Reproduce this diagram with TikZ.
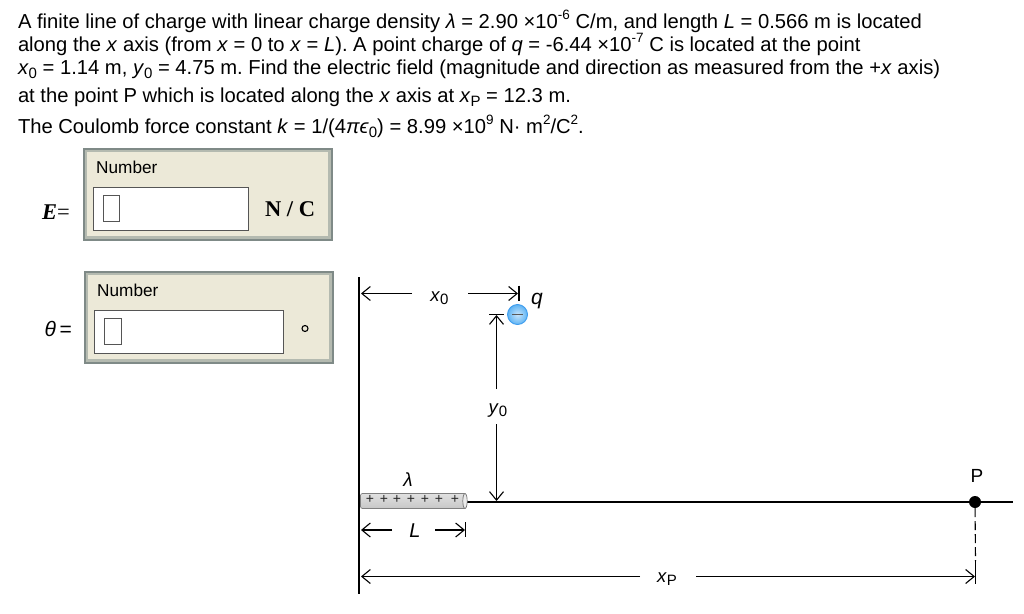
\documentclass[tikz,border=0pt]{standalone}
\usepackage{fontspec}
\setmainfont{Liberation Sans}
\newfontfamily\serifbf{Liberation Serif}
\usetikzlibrary{arrows.meta,shadings}
\definecolor{panelfill}{HTML}{ECE9D8}
\definecolor{panelborder}{HTML}{7F8A87}
\definecolor{panelinner}{HTML}{B4BAB0}
\definecolor{fieldedge}{HTML}{555555}
\definecolor{chargein}{HTML}{C8E4FA}
\definecolor{chargeout}{HTML}{5FB4F4}
\definecolor{chargeedge}{HTML}{3D9CEE}
\newcommand{\itl}[1]{\textit{#1}}
\newcommand{\subs}[1]{\raisebox{-0.2em}{\fontsize{15}{16}\selectfont #1}}
\newcommand{\sups}[1]{\raisebox{0.42em}{\fontsize{13.5}{14}\selectfont #1}}
\frenchspacing
\tikzset{
  x=1pt,y=-1pt,
  textline/.style={anchor=base west,inner sep=0pt,outer sep=0pt,font=\fontsize{20.2}{22}\selectfont},
  label/.style={inner sep=0pt,font=\fontsize{17.2}{20}\selectfont},
  panel/.style={draw=panelborder,line width=2pt,fill=panelfill},
  panelbevel/.style={draw=panelinner,line width=2.4pt},
  field/.style={draw=fieldedge,line width=1pt,fill=white},
  cursor/.style={draw=fieldedge,line width=0.7pt,fill=white},
  dimr/.style={line width=1.1pt,black,-{Straight Barb[length=8.5pt,width=14pt,line width=1.1pt]}},
  thick line/.style={line width=1.9pt},
  tick/.style={line width=1.1pt},
}
\begin{document}
\begin{tikzpicture}
\useasboundingbox (0,0) rectangle (1024,613);
% statement
\node[textline] (t1) at (18,28) {A finite line of charge with linear charge density \itl{λ} = 2.90 ×10\sups{-6} C/m, and length \itl{L} = 0.566 m is located};
\node[textline] (t2) at (18,51) {along the \itl{x} axis (from \itl{x} = 0 to \itl{x} = \itl{L}). A point charge of \itl{q} = -6.44 ×10\sups{-7} C is located at the point};
\node[textline] (t3) at (18,74) {\itl{x}\subs{0} = 1.14 m, \itl{y}\subs{0} = 4.75 m. Find the electric field (magnitude and direction as measured from the +\itl{x} axis)};
\node[textline] (t4) at (18,102) {at the point P which is located along the \itl{x} axis at \itl{x}\subs{P} = 12.3 m.};
\node[textline] (t5) at (18,133) {The Coulomb force constant \itl{k} = 1/(4\itl{πϵ}\subs{0}) = 8.99 ×10\sups{9} N· m\sups{2}/C\sups{2}.};
% panel E
\draw[panel] (84,148.5) rectangle (331.5,239.5);
\draw[panelbevel] (86.2,150.7) rectangle (329.3,237.3);
\node[label,anchor=base west] (num1) at (96,173) {Number};
\draw[field] (93,187) rectangle (248.5,230);
\draw[cursor] (103,195.5) rectangle (119.5,221);
\node[anchor=base,inner sep=0pt,font=\serifbf\fontsize{22.5}{24}\selectfont\bfseries] (unit1) at (290,216.5) {N / C};
\node[anchor=base east,inner sep=0pt,font=\serifbf\fontsize{22.5}{24}\selectfont] (E) at (70,219) {\textbf{\textit{E}}=};
% panel theta
\draw[panel] (85,271.5) rectangle (332.5,362.5);
\draw[panelbevel] (87.2,273.7) rectangle (330.3,360.3);
\node[label,anchor=base west] (num2) at (97,296) {Number};
\draw[field] (94,310) rectangle (283,353);
\draw[cursor] (104,318.5) rectangle (121,344);
\draw[line width=1.1pt] (305,328.5) circle (3);
\node[anchor=base east,inner sep=0pt,font=\fontsize{21}{22}\selectfont] (T) at (72,336.5) {\itl{θ}\,=};
% diagram
\coordinate (axt) at (359,277);
\coordinate (axb) at (359,594);
\draw[thick line] (axt) -- (axb);
\coordinate (axl) at (467,502);
\coordinate (axr) at (1013,502);
\draw[thick line] (axl) -- (axr);
% rod
\shade[top color=black!12,middle color=black!3,bottom color=black!22,draw=black!50,line width=0.7pt,rounded corners=2pt]
  (360.5,493.5) rectangle (466,508.5);
\draw[black!55,line width=0.7pt,fill=black!8] (465,501) ellipse (2.2 and 7.5);
\foreach \px in {370,384,397,411,425,439,455}
  \node[inner sep=0pt,font=\fontsize{14}{14}\selectfont,text=black!85] (p\px) at (\px,499.5) {+};
\node[inner sep=0pt,font=\fontsize{19}{20}\selectfont] (lam) at (408,480) {\itl{λ}};
\node[inner sep=0pt,font=\fontsize{20}{20}\selectfont] (Lab) at (415,530.5) {\itl{L}};
\node[anchor=base,inner sep=0pt,font=\fontsize{18.5}{20}\selectfont] (x0lab) at (439.5,301) {\itl{x}\subs{0}};
\node[anchor=base,inner sep=0pt,font=\fontsize{18.5}{20}\selectfont] (y0lab) at (498,413) {\itl{y}\subs{0}};
\node[anchor=base,inner sep=0pt,font=\fontsize{18.5}{20}\selectfont] (xplab) at (667,582) {\itl{x}\subs{P}};
\node[anchor=base,inner sep=0pt,font=\fontsize{21}{22}\selectfont] (qlab) at (537,304) {\itl{q}};
\node[inner sep=0pt,font=\fontsize{19}{20}\selectfont] (Plab) at (977,476) {P};
% charge
\shade[inner color=chargein,outer color=chargeout,draw=chargeedge,line width=0.9pt] (517.5,314.5) circle (10);
\node[circle,minimum size=20pt,inner sep=0pt] (q) at (517.5,314.5) {};
\draw[line width=1.5pt,black!65] (512,314.5) -- (523,314.5);
% point P
\node[circle,fill=black,minimum size=12pt,inner sep=0pt] (P) at (975,502) {};
% dims
\coordinate (x0a) at (361,293.5);
\coordinate (x0l) at (412,293.5);
\coordinate (x0r) at (468,293.5);
\coordinate (x0b) at (518,293.5);
\draw[dimr] (x0l) -- (x0a);
\draw[dimr] (x0r) -- (x0b);
\draw[tick] (519,285.5) -- (519,301);
\coordinate (y0t) at (496.5,315);
\coordinate (y0m1) at (496.5,389);
\coordinate (y0m2) at (496.5,424);
\coordinate (y0b) at (496.5,501);
\draw[dimr] (y0m1) -- (y0t);
\draw[dimr] (y0m2) -- (y0b);
\draw[tick] (489,314.5) -- (504,314.5);
\coordinate (La) at (361,530);
\coordinate (Ll) at (392,530);
\coordinate (Lr) at (435,530);
\coordinate (Lb) at (465,530);
\draw[dimr] (Ll) -- (La);
\draw[dimr] (Lr) -- (Lb);
\draw[tick] (465.5,522) -- (465.5,537);
\coordinate (xa) at (361,576.5);
\coordinate (xl) at (640,576.5);
\coordinate (xr) at (696,576.5);
\coordinate (xb) at (975,576.5);
\draw[dimr] (xl) -- (xa);
\draw[dimr] (xr) -- (xb);
\draw[tick,dash pattern=on 9pt off 4pt] (P) -- (975.5,561);
\draw[tick] (975.5,561) -- (975.5,584);
\end{tikzpicture}
\end{document}
